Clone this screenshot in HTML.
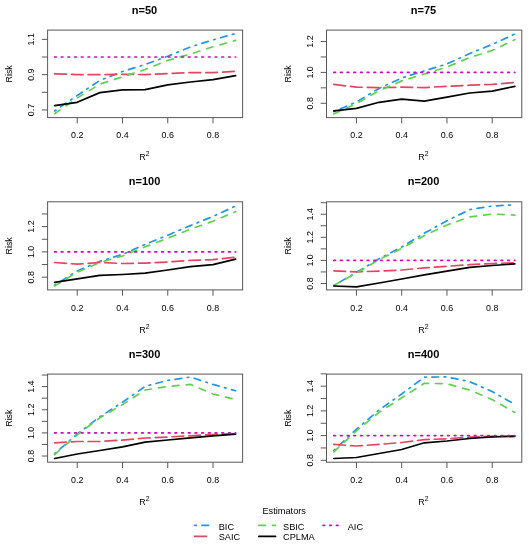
<!DOCTYPE html>
<html lang="en"><head><meta charset="utf-8"><title>Risk of estimators</title>
<style>html,body{margin:0;padding:0;background:#fff;}body{width:529px;height:550px;overflow:hidden;font-family:"Liberation Sans", sans-serif;}svg{display:block}svg text{font-family:"Liberation Sans", sans-serif;}</style>
</head><body>
<svg width="529" height="550" viewBox="0 0 529 550" fill="#000">
<rect width="529" height="550" fill="#fff"/>
<g>
<path d="M54.6 111L55.98 110.06M60.57 106.91L66.09 103.13M70.69 99.98L72.07 99.04M76.66 95.89L77.23 95.5L82.22 92.17M86.85 89.08L88.24 88.15M92.88 85.06L98.44 81.35M103.46 78.99L105.01 78.37M110.19 76.34L116.42 73.89M121.6 71.85L122.49 71.5L123.18 71.29M128.5 69.64L134.89 67.66M140.21 66.02L141.81 65.53M147.09 63.78L153.37 61.47M158.6 59.56L160.17 58.98M165.4 57.06L167.75 56.2L171.63 54.62M176.79 52.53L178.33 51.9M183.49 49.8L189.69 47.28M194.99 45.55L196.58 45.05M201.89 43.39L208.28 41.38M213.6 39.73L215.2 39.28M220.56 37.76L227 35.94M232.36 34.43L233.97 33.97" fill="none" stroke="#2297E6" stroke-width="1.7" stroke-linecap="round" stroke-linejoin="round"/>
<path d="M54.6 73.8L66.29 74.21M71.39 74.39L77.23 74.6L83.09 74.63M88.19 74.65L99.86 74.7L99.89 74.7M104.98 74.61L116.68 74.4M121.78 74.31L122.49 74.3L133.48 74.45M138.58 74.51L145.12 74.6L150.27 74.35M155.37 74.1L167.05 73.53M172.15 73.33L183.84 72.86M188.94 72.66L190.38 72.6L200.64 72.6M205.74 72.6L213.01 72.6L217.43 72.35M222.52 72.05L234.2 71.38" fill="none" stroke="#E04862" stroke-width="1.7" stroke-linecap="round" stroke-linejoin="round"/>
<path d="M54.6 113.7L60.1 109.89M66.01 105.78L71.51 101.97M77.43 97.88L83.13 94.37M89.27 90.61L94.97 87.1M101.25 83.65L107.62 81.6M114.47 79.39L120.83 77.33M127.69 75.12L134.05 73.07M140.91 70.86L145.12 69.5L147.22 68.66M153.9 65.97L160.11 63.47M166.79 60.79L167.75 60.4L173.19 58.86M180.12 56.9L186.55 55.08M193.45 53.02L199.83 50.99M206.69 48.81L213.01 46.8L213.06 46.78M219.99 44.83L226.43 43M233.36 41.05L235.64 40.4" fill="none" stroke="#61D04F" stroke-width="1.7" stroke-linecap="round" stroke-linejoin="round"/>
<polyline points="54.6,105.7 77.23,102.3 99.86,92.6 122.49,89.8 145.12,89.7 167.75,84.9 190.38,82 213.01,79.6 235.64,75.6" fill="none" stroke="#000000" stroke-width="1.7" stroke-linecap="round" stroke-linejoin="round"/>
<path d="M54.6 57L56.27 57M61.29 57L62.96 57M67.98 57L69.65 57M74.67 57L76.34 57M81.36 57L83.03 57M88.05 57L89.72 57M94.74 57L96.41 57M101.43 57L103.1 57M108.12 57L109.79 57M114.81 57L116.48 57M121.5 57L122.49 57L123.17 57M128.19 57L129.86 57M134.88 57L136.55 57M141.57 57L143.24 57M148.26 57L149.93 57M154.95 57L156.62 57M161.64 57L163.31 57M168.33 57L170 57M175.02 57L176.69 57M181.71 57L183.38 57M188.4 57L190.07 57M195.09 57L196.76 57M201.78 57L203.45 57M208.47 57L210.14 57M215.16 57L216.83 57M221.85 57L223.52 57M228.54 57L230.21 57M235.23 57L235.64 57" fill="none" stroke="#CD0BBC" stroke-width="1.7" stroke-linecap="round" stroke-linejoin="round"/>
<rect x="47.6" y="30.1" width="195" height="87.5" fill="none" stroke="#585858" stroke-width="1"/>
<path d="M77.23 117.6v5.8M122.49 117.6v5.8M167.75 117.6v5.8M213.01 117.6v5.8M47.6 109.95h-5.8M47.6 92.3h-5.8M47.6 74.65h-5.8M47.6 57h-5.8M47.6 39.35h-5.8" stroke="#585858" stroke-width="1" fill="none"/>
<text transform="translate(77.23 138.3) scale(0.9 1)" font-size="9.9" text-anchor="middle">0.2</text>
<text transform="translate(122.49 138.3) scale(0.9 1)" font-size="9.9" text-anchor="middle">0.4</text>
<text transform="translate(167.75 138.3) scale(0.9 1)" font-size="9.9" text-anchor="middle">0.6</text>
<text transform="translate(213.01 138.3) scale(0.9 1)" font-size="9.9" text-anchor="middle">0.8</text>
<text transform="translate(33.7 109.95) rotate(-90) scale(0.9 1)" font-size="9.9" text-anchor="middle">0.7</text>
<text transform="translate(33.7 74.65) rotate(-90) scale(0.9 1)" font-size="9.9" text-anchor="middle">0.9</text>
<text transform="translate(33.7 39.35) rotate(-90) scale(0.9 1)" font-size="9.9" text-anchor="middle">1.1</text>
<text transform="translate(11.8 73.85) rotate(-90) scale(0.9 1)" font-size="9.9" text-anchor="middle">Risk</text>
<text transform="translate(144.4 160.2) scale(0.9 1)" font-size="9.9" text-anchor="middle">R<tspan font-size="7.6" dy="-3.9">2</tspan></text>
<text x="144.5" y="13.7" font-size="11" font-weight="bold" text-anchor="middle" fill="#000">n=50</text>
</g>
<g>
<path d="M333.8 111.6L335.34 110.95M340.47 108.77L346.62 106.16M351.75 103.98L353.29 103.33M358.28 100.89L364.01 97.44M368.79 94.57L370.22 93.71M374.99 90.84L379.06 88.4L380.83 87.59M385.89 85.26L387.41 84.56M392.47 82.24L398.55 79.44M403.7 77.36L405.29 76.85M410.6 75.17L416.98 73.14M422.28 71.45L423.87 70.94M429.21 69.33L435.61 67.41M440.95 65.8L442.55 65.32M447.83 63.59L453.91 60.8M458.97 58.47L460.49 57.78M465.55 55.45L469.58 53.6L471.67 52.75M476.83 50.65L478.38 50.02M483.54 47.93L489.74 45.41M494.84 43.19L496.36 42.49M501.42 40.17L507.5 37.37M512.56 35.05L514.08 34.35" fill="none" stroke="#2297E6" stroke-width="1.7" stroke-linecap="round" stroke-linejoin="round"/>
<path d="M333.8 84.4L345.42 85.79M350.48 86.39L356.43 87.1L362.14 87.23M367.24 87.34L378.93 87.6M384.03 87.51L395.73 87.31M400.83 87.22L401.69 87.2L412.53 87.39M417.63 87.48L424.32 87.6L429.32 87.31M434.41 87.02L446.09 86.35M451.18 86.09L462.87 85.53M467.96 85.28L469.58 85.2L479.66 84.84M484.75 84.66L492.21 84.4L496.43 84.05M501.52 83.62L513.17 82.64" fill="none" stroke="#E04862" stroke-width="1.7" stroke-linecap="round" stroke-linejoin="round"/>
<path d="M333.8 114L339.88 111.21M346.42 108.2L352.5 105.41M358.93 102.18L364.76 98.89M371.02 95.35L376.85 92.05M383.33 88.93L389.45 86.25M396.05 83.37L401.69 80.9L402.2 80.74M409.09 78.64L415.49 76.69M422.37 74.59L424.32 74L428.77 72.62M435.65 70.5L442.04 68.52M448.85 66.21L455.03 63.64M461.68 60.88L467.86 58.32M474.67 56L481.05 54M487.92 51.85L492.21 50.5L494.19 49.55M500.68 46.42L506.7 43.52M513.19 40.4L514.84 39.6" fill="none" stroke="#61D04F" stroke-width="1.7" stroke-linecap="round" stroke-linejoin="round"/>
<polyline points="333.8,110.8 356.43,108.4 379.06,102.3 401.69,99.1 424.32,101.2 446.95,97.2 469.58,93 492.21,91.1 514.84,86.3" fill="none" stroke="#000000" stroke-width="1.7" stroke-linecap="round" stroke-linejoin="round"/>
<path d="M333.8 72.4L335.47 72.4M340.49 72.4L342.16 72.4M347.18 72.4L348.85 72.4M353.87 72.4L355.54 72.4M360.56 72.4L362.23 72.4M367.25 72.4L368.92 72.4M373.94 72.4L375.61 72.4M380.63 72.4L382.3 72.4M387.32 72.4L388.99 72.4M394.01 72.4L395.68 72.4M400.7 72.4L401.69 72.4L402.37 72.4M407.39 72.4L409.06 72.4M414.08 72.4L415.75 72.4M420.77 72.4L422.44 72.4M427.46 72.4L429.13 72.4M434.15 72.4L435.82 72.4M440.84 72.4L442.51 72.4M447.53 72.4L449.2 72.4M454.22 72.4L455.89 72.4M460.91 72.4L462.58 72.4M467.6 72.4L469.27 72.4M474.29 72.4L475.96 72.4M480.98 72.4L482.65 72.4M487.67 72.4L489.34 72.4M494.36 72.4L496.03 72.4M501.05 72.4L502.72 72.4M507.74 72.4L509.41 72.4M514.43 72.4L514.84 72.4" fill="none" stroke="#CD0BBC" stroke-width="1.7" stroke-linecap="round" stroke-linejoin="round"/>
<rect x="326.5" y="30.1" width="195.3" height="87.5" fill="none" stroke="#585858" stroke-width="1"/>
<path d="M356.43 117.6v5.8M401.69 117.6v5.8M446.95 117.6v5.8M492.21 117.6v5.8M326.5 103.3h-5.8M326.5 87.85h-5.8M326.5 72.4h-5.8M326.5 56.95h-5.8M326.5 41.5h-5.8" stroke="#585858" stroke-width="1" fill="none"/>
<text transform="translate(356.43 138.3) scale(0.9 1)" font-size="9.9" text-anchor="middle">0.2</text>
<text transform="translate(401.69 138.3) scale(0.9 1)" font-size="9.9" text-anchor="middle">0.4</text>
<text transform="translate(446.95 138.3) scale(0.9 1)" font-size="9.9" text-anchor="middle">0.6</text>
<text transform="translate(492.21 138.3) scale(0.9 1)" font-size="9.9" text-anchor="middle">0.8</text>
<text transform="translate(312.6 103.3) rotate(-90) scale(0.9 1)" font-size="9.9" text-anchor="middle">0.8</text>
<text transform="translate(312.6 72.4) rotate(-90) scale(0.9 1)" font-size="9.9" text-anchor="middle">1.0</text>
<text transform="translate(312.6 41.5) rotate(-90) scale(0.9 1)" font-size="9.9" text-anchor="middle">1.2</text>
<text transform="translate(290.7 73.85) rotate(-90) scale(0.9 1)" font-size="9.9" text-anchor="middle">Risk</text>
<text transform="translate(423.45 160.2) scale(0.9 1)" font-size="9.9" text-anchor="middle">R<tspan font-size="7.6" dy="-3.9">2</tspan></text>
<text x="423.55" y="13.7" font-size="11" font-weight="bold" text-anchor="middle" fill="#000">n=75</text>
</g>
<g>
<path d="M54.6 285.2L56.01 284.31M60.73 281.35L66.4 277.8M71.12 274.84L72.53 273.95M77.25 270.99L83.4 268.35M88.52 266.16L90.06 265.5M95.17 263.31L99.86 261.3L101.38 260.84M106.71 259.21L108.31 258.72M113.64 257.1L120.04 255.15M125.24 253.19L126.77 252.51M131.86 250.26L137.98 247.56M143.07 245.3L144.6 244.63M149.75 242.52L155.95 240M161.11 237.9L162.66 237.27M167.82 235.17L173.98 232.56M179.1 230.38L180.64 229.73M185.77 227.56L190.38 225.6L191.94 224.97M197.1 222.87L198.65 222.24M203.81 220.14L210 217.62M215.12 215.43L216.64 214.73M221.7 212.41L227.78 209.61M232.84 207.29L234.36 206.59" fill="none" stroke="#2297E6" stroke-width="1.7" stroke-linecap="round" stroke-linejoin="round"/>
<path d="M54.6 262.5L66.27 263.38M71.35 263.76L77.23 264.2L83.02 263.77M88.11 263.38L99.77 262.51M104.87 262.72L116.56 263.24M121.65 263.46L122.49 263.5L133.35 263.31M138.45 263.22L145.12 263.1L150.14 262.86M155.23 262.61L166.92 262.04M172.01 261.7L183.68 260.87M188.77 260.51L190.38 260.4L200.46 260.04M205.55 259.86L213.01 259.6L217.23 259.15M222.3 258.62L233.93 257.38" fill="none" stroke="#E04862" stroke-width="1.7" stroke-linecap="round" stroke-linejoin="round"/>
<path d="M54.6 286L60.31 282.52M66.46 278.77L72.17 275.29M78.4 271.7L84.55 269.06M91.17 266.23L97.32 263.59M104.12 261.28L110.55 259.43M117.47 257.44L122.49 256L123.85 255.45M130.52 252.74L136.72 250.22M143.39 247.5L145.12 246.8L149.62 245.09M156.36 242.53L162.61 240.15M169.33 237.57L175.55 235.1M182.24 232.44L188.45 229.97M195.21 227.49L201.52 225.26M208.31 222.86L213.01 221.2L214.58 220.53M221.21 217.72L227.37 215.11M233.99 212.3L235.64 211.6" fill="none" stroke="#61D04F" stroke-width="1.7" stroke-linecap="round" stroke-linejoin="round"/>
<polyline points="54.6,282.3 77.23,278.8 99.86,275.3 122.49,274.5 145.12,273.2 167.75,270 190.38,266.7 213.01,264.7 235.64,259.1" fill="none" stroke="#000000" stroke-width="1.7" stroke-linecap="round" stroke-linejoin="round"/>
<path d="M54.6 251.9L56.27 251.9M61.29 251.9L62.96 251.9M67.98 251.9L69.65 251.9M74.67 251.9L76.34 251.9M81.36 251.9L83.03 251.9M88.05 251.9L89.72 251.9M94.74 251.9L96.41 251.9M101.43 251.9L103.1 251.9M108.12 251.9L109.79 251.9M114.81 251.9L116.48 251.9M121.5 251.9L122.49 251.9L123.17 251.9M128.19 251.9L129.86 251.9M134.88 251.9L136.55 251.9M141.57 251.9L143.24 251.9M148.26 251.9L149.93 251.9M154.95 251.9L156.62 251.9M161.64 251.9L163.31 251.9M168.33 251.9L170 251.9M175.02 251.9L176.69 251.9M181.71 251.9L183.38 251.9M188.4 251.9L190.07 251.9M195.09 251.9L196.76 251.9M201.78 251.9L203.45 251.9M208.47 251.9L210.14 251.9M215.16 251.9L216.83 251.9M221.85 251.9L223.52 251.9M228.54 251.9L230.21 251.9M235.23 251.9L235.64 251.9" fill="none" stroke="#CD0BBC" stroke-width="1.7" stroke-linecap="round" stroke-linejoin="round"/>
<rect x="47.6" y="201.8" width="195" height="88.1" fill="none" stroke="#585858" stroke-width="1"/>
<path d="M77.23 289.9v5.8M122.49 289.9v5.8M167.75 289.9v5.8M213.01 289.9v5.8M47.6 277.2h-5.8M47.6 264.55h-5.8M47.6 251.9h-5.8M47.6 239.25h-5.8M47.6 226.6h-5.8M47.6 213.95h-5.8" stroke="#585858" stroke-width="1" fill="none"/>
<text transform="translate(77.23 310.6) scale(0.9 1)" font-size="9.9" text-anchor="middle">0.2</text>
<text transform="translate(122.49 310.6) scale(0.9 1)" font-size="9.9" text-anchor="middle">0.4</text>
<text transform="translate(167.75 310.6) scale(0.9 1)" font-size="9.9" text-anchor="middle">0.6</text>
<text transform="translate(213.01 310.6) scale(0.9 1)" font-size="9.9" text-anchor="middle">0.8</text>
<text transform="translate(33.7 277.2) rotate(-90) scale(0.9 1)" font-size="9.9" text-anchor="middle">0.8</text>
<text transform="translate(33.7 251.9) rotate(-90) scale(0.9 1)" font-size="9.9" text-anchor="middle">1.0</text>
<text transform="translate(33.7 226.6) rotate(-90) scale(0.9 1)" font-size="9.9" text-anchor="middle">1.2</text>
<text transform="translate(11.8 245.85) rotate(-90) scale(0.9 1)" font-size="9.9" text-anchor="middle">Risk</text>
<text transform="translate(144.4 332.5) scale(0.9 1)" font-size="9.9" text-anchor="middle">R<tspan font-size="7.6" dy="-3.9">2</tspan></text>
<text x="144.5" y="185.4" font-size="11" font-weight="bold" text-anchor="middle" fill="#000">n=100</text>
</g>
<g>
<path d="M333.8 285.5L335.25 284.66M340.07 281.87L345.86 278.52M350.68 275.73L352.12 274.89M356.94 272.1L362.67 268.65M367.45 265.78L368.88 264.92M373.65 262.05L379.06 258.8L379.4 258.62M384.34 256.05L385.82 255.28M390.76 252.7L396.69 249.61M401.63 247.03L401.69 247L403.05 246.17M407.81 243.27L413.52 239.78M418.28 236.89L419.7 236.02M424.46 233.12L430.33 229.91M435.21 227.23L436.68 226.43M441.56 223.75L446.95 220.8L447.44 220.56M452.43 218.09L453.93 217.35M458.92 214.88L464.92 211.91M469.94 209.54L471.59 209.28M477.09 208.4L483.7 207.35M489.2 206.48L490.85 206.22M496.4 205.8L503.08 205.47M508.64 205.2L510.31 205.12" fill="none" stroke="#2297E6" stroke-width="1.7" stroke-linecap="round" stroke-linejoin="round"/>
<path d="M333.8 270.8L345.49 271.37M350.58 271.62L356.43 271.9L362.27 271.69M367.37 271.51L379.06 271.1M384.15 270.85L395.84 270.28M400.93 270.04L401.69 270L412.59 268.99M417.66 268.52L424.32 267.9L429.32 267.55M434.41 267.19L446.08 266.36M451.17 266L462.84 265.18M467.93 264.82L469.58 264.7L479.61 264.21M484.7 263.96L492.21 263.6L496.39 263.45M501.49 263.27L513.18 262.86" fill="none" stroke="#E04862" stroke-width="1.7" stroke-linecap="round" stroke-linejoin="round"/>
<path d="M333.8 285.5L339.68 282.31M346 278.87L351.88 275.67M358.16 272.16L363.9 268.71M370.07 265L375.8 261.56M382.11 258.09L388.1 255.12M394.56 251.93L400.55 248.96M406.85 245.48L412.68 242.19M418.94 238.64L424.32 235.6L424.78 235.38M431.3 232.33L437.36 229.49M443.88 226.44L446.95 225L450.06 223.9M456.85 221.5L463.16 219.27M469.97 216.95L476.6 216.07M483.74 215.12L490.37 214.24M497.55 214.26L504.23 214.58M511.42 214.93L514.84 215.1" fill="none" stroke="#61D04F" stroke-width="1.7" stroke-linecap="round" stroke-linejoin="round"/>
<polyline points="333.8,286 356.43,286.9 379.06,283 401.69,279 424.32,274.8 446.95,271.1 469.58,267.4 492.21,265.5 514.84,263.9" fill="none" stroke="#000000" stroke-width="1.7" stroke-linecap="round" stroke-linejoin="round"/>
<path d="M333.8 260.4L335.47 260.4M340.49 260.4L342.16 260.4M347.18 260.4L348.85 260.4M353.87 260.4L355.54 260.4M360.56 260.4L362.23 260.4M367.25 260.4L368.92 260.4M373.94 260.4L375.61 260.4M380.63 260.4L382.3 260.4M387.32 260.4L388.99 260.4M394.01 260.4L395.68 260.4M400.7 260.4L401.69 260.4L402.37 260.4M407.39 260.4L409.06 260.4M414.08 260.4L415.75 260.4M420.77 260.4L422.44 260.4M427.46 260.4L429.13 260.4M434.15 260.4L435.82 260.4M440.84 260.4L442.51 260.4M447.53 260.4L449.2 260.4M454.22 260.4L455.89 260.4M460.91 260.4L462.58 260.4M467.6 260.4L469.27 260.4M474.29 260.4L475.96 260.4M480.98 260.4L482.65 260.4M487.67 260.4L489.34 260.4M494.36 260.4L496.03 260.4M501.05 260.4L502.72 260.4M507.74 260.4L509.41 260.4M514.43 260.4L514.84 260.4" fill="none" stroke="#CD0BBC" stroke-width="1.7" stroke-linecap="round" stroke-linejoin="round"/>
<rect x="326.5" y="201.8" width="195.3" height="88.1" fill="none" stroke="#585858" stroke-width="1"/>
<path d="M356.43 289.9v5.8M401.69 289.9v5.8M446.95 289.9v5.8M492.21 289.9v5.8M326.5 283.48h-5.8M326.5 271.94h-5.8M326.5 260.4h-5.8M326.5 248.86h-5.8M326.5 237.32h-5.8M326.5 225.78h-5.8M326.5 214.24h-5.8M326.5 202.7h-5.8" stroke="#585858" stroke-width="1" fill="none"/>
<text transform="translate(356.43 310.6) scale(0.9 1)" font-size="9.9" text-anchor="middle">0.2</text>
<text transform="translate(401.69 310.6) scale(0.9 1)" font-size="9.9" text-anchor="middle">0.4</text>
<text transform="translate(446.95 310.6) scale(0.9 1)" font-size="9.9" text-anchor="middle">0.6</text>
<text transform="translate(492.21 310.6) scale(0.9 1)" font-size="9.9" text-anchor="middle">0.8</text>
<text transform="translate(312.6 283.48) rotate(-90) scale(0.9 1)" font-size="9.9" text-anchor="middle">0.8</text>
<text transform="translate(312.6 260.4) rotate(-90) scale(0.9 1)" font-size="9.9" text-anchor="middle">1.0</text>
<text transform="translate(312.6 237.32) rotate(-90) scale(0.9 1)" font-size="9.9" text-anchor="middle">1.2</text>
<text transform="translate(312.6 214.24) rotate(-90) scale(0.9 1)" font-size="9.9" text-anchor="middle">1.4</text>
<text transform="translate(290.7 245.85) rotate(-90) scale(0.9 1)" font-size="9.9" text-anchor="middle">Risk</text>
<text transform="translate(423.45 332.5) scale(0.9 1)" font-size="9.9" text-anchor="middle">R<tspan font-size="7.6" dy="-3.9">2</tspan></text>
<text x="423.55" y="185.4" font-size="11" font-weight="bold" text-anchor="middle" fill="#000">n=200</text>
</g>
<g>
<path d="M54.6 453.7L55.86 452.6M60.06 448.95L65.11 444.55M69.31 440.9L70.57 439.8M74.77 436.14L77.23 434L79.96 431.93M84.39 428.56L85.72 427.55M90.16 424.18L95.48 420.13M99.92 416.76L101.33 415.86M106.02 412.86L111.65 409.25M116.34 406.24L117.75 405.34M122.44 402.34L122.49 402.3L127.91 398.49M132.47 395.29L133.83 394.33M138.39 391.13L143.87 387.28M149.02 385.37L150.64 384.94M156.02 383.51L162.49 381.8M167.87 380.38L169.53 380.13M175.03 379.31L181.65 378.31M187.16 377.48L188.81 377.24M194.16 378.24L200.52 380.32M205.82 382.05L207.4 382.57M212.7 384.3L213.01 384.4L219.13 386.13M224.49 387.65L226.1 388.1M231.46 389.62L235.64 390.8" fill="none" stroke="#2297E6" stroke-width="1.7" stroke-linecap="round" stroke-linejoin="round"/>
<path d="M54.6 442.8L66.28 442.13M71.37 441.84L77.23 441.5L83.06 441.5M88.16 441.5L99.86 441.5L99.86 441.5M104.95 441.18L116.63 440.46M121.72 440.15L122.49 440.1L133.37 439.09M138.45 438.62L145.12 438L150.12 437.78M155.21 437.55L166.9 437.04M171.99 436.77L183.68 436.16M188.77 435.89L190.38 435.8L200.45 435.22M205.54 434.93L213.01 434.5L217.23 434.35M222.33 434.17L234.02 433.76" fill="none" stroke="#E04862" stroke-width="1.7" stroke-linecap="round" stroke-linejoin="round"/>
<path d="M54.6 454.5L59.65 450.11M65.08 445.38L70.12 440.99M75.55 436.26L77.23 434.8L80.8 432.12M86.56 427.79L91.91 423.77M97.66 419.45L99.86 417.8L103.27 415.81M109.48 412.19L115.26 408.82M121.48 405.19L122.49 404.6L127.13 401.61M133.18 397.7L138.8 394.08M144.85 390.17L145.12 390L151.42 389.03M158.53 387.93L165.15 386.9M172.29 386.08L178.96 385.46M186.13 384.79L190.38 384.4L192.6 385.34M199.23 388.16L205.39 390.77M212.02 393.58L213.01 394L218.46 395.35M225.45 397.08L231.94 398.69" fill="none" stroke="#61D04F" stroke-width="1.7" stroke-linecap="round" stroke-linejoin="round"/>
<polyline points="54.6,458.5 77.23,454 99.86,450.5 122.49,446.8 145.12,442.2 167.75,440 190.38,437.9 213.01,435.8 235.64,434.1" fill="none" stroke="#000000" stroke-width="1.7" stroke-linecap="round" stroke-linejoin="round"/>
<path d="M54.6 432.9L56.27 432.9M61.29 432.9L62.96 432.9M67.98 432.9L69.65 432.9M74.67 432.9L76.34 432.9M81.36 432.9L83.03 432.9M88.05 432.9L89.72 432.9M94.74 432.9L96.41 432.9M101.43 432.9L103.1 432.9M108.12 432.9L109.79 432.9M114.81 432.9L116.48 432.9M121.5 432.9L122.49 432.9L123.17 432.9M128.19 432.9L129.86 432.9M134.88 432.9L136.55 432.9M141.57 432.9L143.24 432.9M148.26 432.9L149.93 432.9M154.95 432.9L156.62 432.9M161.64 432.9L163.31 432.9M168.33 432.9L170 432.9M175.02 432.9L176.69 432.9M181.71 432.9L183.38 432.9M188.4 432.9L190.07 432.9M195.09 432.9L196.76 432.9M201.78 432.9L203.45 432.9M208.47 432.9L210.14 432.9M215.16 432.9L216.83 432.9M221.85 432.9L223.52 432.9M228.54 432.9L230.21 432.9M235.23 432.9L235.64 432.9" fill="none" stroke="#CD0BBC" stroke-width="1.7" stroke-linecap="round" stroke-linejoin="round"/>
<rect x="47.6" y="374.1" width="195" height="88.1" fill="none" stroke="#585858" stroke-width="1"/>
<path d="M77.23 462.2v5.8M122.49 462.2v5.8M167.75 462.2v5.8M213.01 462.2v5.8M47.6 456.04h-5.8M47.6 444.47h-5.8M47.6 432.9h-5.8M47.6 421.33h-5.8M47.6 409.76h-5.8M47.6 398.19h-5.8M47.6 386.62h-5.8M47.6 375.05h-5.8" stroke="#585858" stroke-width="1" fill="none"/>
<text transform="translate(77.23 482.9) scale(0.9 1)" font-size="9.9" text-anchor="middle">0.2</text>
<text transform="translate(122.49 482.9) scale(0.9 1)" font-size="9.9" text-anchor="middle">0.4</text>
<text transform="translate(167.75 482.9) scale(0.9 1)" font-size="9.9" text-anchor="middle">0.6</text>
<text transform="translate(213.01 482.9) scale(0.9 1)" font-size="9.9" text-anchor="middle">0.8</text>
<text transform="translate(33.7 456.04) rotate(-90) scale(0.9 1)" font-size="9.9" text-anchor="middle">0.8</text>
<text transform="translate(33.7 432.9) rotate(-90) scale(0.9 1)" font-size="9.9" text-anchor="middle">1.0</text>
<text transform="translate(33.7 409.76) rotate(-90) scale(0.9 1)" font-size="9.9" text-anchor="middle">1.2</text>
<text transform="translate(33.7 386.62) rotate(-90) scale(0.9 1)" font-size="9.9" text-anchor="middle">1.4</text>
<text transform="translate(11.8 418.15) rotate(-90) scale(0.9 1)" font-size="9.9" text-anchor="middle">Risk</text>
<text transform="translate(144.4 504.8) scale(0.9 1)" font-size="9.9" text-anchor="middle">R<tspan font-size="7.6" dy="-3.9">2</tspan></text>
<text x="144.5" y="357.7" font-size="11" font-weight="bold" text-anchor="middle" fill="#000">n=300</text>
</g>
<g>
<path d="M333.8 450.5L335.02 449.36M339.07 445.54L343.94 440.95M348 437.13L349.22 435.99M353.27 432.17L356.43 429.2L358.22 427.68M362.47 424.07L363.74 422.99M367.99 419.39L373.09 415.06M377.34 411.46L378.61 410.38M383.13 407.12L388.59 403.26M393.14 400.04L394.5 399.08M399.05 395.86L401.69 394L404.47 391.94M408.94 388.62L410.28 387.62M414.75 384.3L420.13 380.31M424.67 377.2L426.34 377.17M431.91 377.1L438.59 377.01M444.16 376.94L445.83 376.91M451.31 377.81L457.86 379.17M463.31 380.3L464.95 380.64M470.35 381.94L476.47 384.64M481.56 386.9L483.09 387.57M488.19 389.82L492.21 391.6L494.2 392.73M499.05 395.47L500.5 396.29M505.35 399.03L511.18 402.33" fill="none" stroke="#2297E6" stroke-width="1.7" stroke-linecap="round" stroke-linejoin="round"/>
<path d="M333.8 444.4L345.47 445.23M350.56 445.58L356.43 446L362.23 445.59M367.32 445.23L378.99 444.41M384.07 443.98L395.73 443M400.81 442.57L401.69 442.5L412.42 441.13M417.48 440.48L424.32 439.6L429.12 439.43M434.22 439.25L445.91 438.84M451 438.51L462.67 437.69M467.76 437.33L469.58 437.2L479.45 436.85M484.54 436.67L492.21 436.4L496.24 436.31M501.34 436.2L513.03 435.94" fill="none" stroke="#E04862" stroke-width="1.7" stroke-linecap="round" stroke-linejoin="round"/>
<path d="M333.8 451.9L338.69 447.34M343.96 442.43L348.85 437.87M354.12 432.96L356.43 430.8L359.17 428.57M364.75 424.03L369.95 419.81M375.53 415.27L379.06 412.4L380.86 411.24M386.91 407.33L392.53 403.71M398.58 399.8L401.69 397.8L404.21 396.19M410.27 392.3L415.9 388.69M421.97 384.81L424.32 383.3L428.21 383.37M435.41 383.5L442.1 383.61M449.22 384.33L455.66 386.12M462.6 388.06L469.04 389.85M475.69 392.59L481.85 395.21M488.48 398.02L492.21 399.6L494.51 400.9M500.77 404.44L506.6 407.74M512.86 411.28L514.84 412.4" fill="none" stroke="#61D04F" stroke-width="1.7" stroke-linecap="round" stroke-linejoin="round"/>
<polyline points="333.8,458.5 356.43,457.5 379.06,453.5 401.69,449.5 424.32,442.8 446.95,441 469.58,438.5 492.21,436.9 514.84,436.4" fill="none" stroke="#000000" stroke-width="1.7" stroke-linecap="round" stroke-linejoin="round"/>
<path d="M333.8 435.6L335.47 435.6M340.49 435.6L342.16 435.6M347.18 435.6L348.85 435.6M353.87 435.6L355.54 435.6M360.56 435.6L362.23 435.6M367.25 435.6L368.92 435.6M373.94 435.6L375.61 435.6M380.63 435.6L382.3 435.6M387.32 435.6L388.99 435.6M394.01 435.6L395.68 435.6M400.7 435.6L401.69 435.6L402.37 435.6M407.39 435.6L409.06 435.6M414.08 435.6L415.75 435.6M420.77 435.6L422.44 435.6M427.46 435.6L429.13 435.6M434.15 435.6L435.82 435.6M440.84 435.6L442.51 435.6M447.53 435.6L449.2 435.6M454.22 435.6L455.89 435.6M460.91 435.6L462.58 435.6M467.6 435.6L469.27 435.6M474.29 435.6L475.96 435.6M480.98 435.6L482.65 435.6M487.67 435.6L489.34 435.6M494.36 435.6L496.03 435.6M501.05 435.6L502.72 435.6M507.74 435.6L509.41 435.6M514.43 435.6L514.84 435.6" fill="none" stroke="#CD0BBC" stroke-width="1.7" stroke-linecap="round" stroke-linejoin="round"/>
<rect x="326.5" y="374.1" width="195.3" height="88.1" fill="none" stroke="#585858" stroke-width="1"/>
<path d="M356.43 462.2v5.8M401.69 462.2v5.8M446.95 462.2v5.8M492.21 462.2v5.8M326.5 460.3h-5.8M326.5 447.95h-5.8M326.5 435.6h-5.8M326.5 423.25h-5.8M326.5 410.9h-5.8M326.5 398.55h-5.8M326.5 386.2h-5.8M326.5 373.85h-5.8" stroke="#585858" stroke-width="1" fill="none"/>
<text transform="translate(356.43 482.9) scale(0.9 1)" font-size="9.9" text-anchor="middle">0.2</text>
<text transform="translate(401.69 482.9) scale(0.9 1)" font-size="9.9" text-anchor="middle">0.4</text>
<text transform="translate(446.95 482.9) scale(0.9 1)" font-size="9.9" text-anchor="middle">0.6</text>
<text transform="translate(492.21 482.9) scale(0.9 1)" font-size="9.9" text-anchor="middle">0.8</text>
<text transform="translate(312.6 460.3) rotate(-90) scale(0.9 1)" font-size="9.9" text-anchor="middle">0.8</text>
<text transform="translate(312.6 435.6) rotate(-90) scale(0.9 1)" font-size="9.9" text-anchor="middle">1.0</text>
<text transform="translate(312.6 410.9) rotate(-90) scale(0.9 1)" font-size="9.9" text-anchor="middle">1.2</text>
<text transform="translate(312.6 386.2) rotate(-90) scale(0.9 1)" font-size="9.9" text-anchor="middle">1.4</text>
<text transform="translate(290.7 418.15) rotate(-90) scale(0.9 1)" font-size="9.9" text-anchor="middle">Risk</text>
<text transform="translate(423.45 504.8) scale(0.9 1)" font-size="9.9" text-anchor="middle">R<tspan font-size="7.6" dy="-3.9">2</tspan></text>
<text x="423.55" y="357.7" font-size="11" font-weight="bold" text-anchor="middle" fill="#000">n=400</text>
</g>
<text transform="translate(284.2 514.1) scale(0.94 1)" font-size="9.8" text-anchor="middle">Estimators</text>
<path d="M194.6 525.3L196.27 525.3M201.84 525.3L208.53 525.3" fill="none" stroke="#2297E6" stroke-width="1.7" stroke-linecap="round"/>
<text transform="translate(218.7 529.5) scale(0.94 1)" font-size="9.8">BIC</text>
<path d="M194.6 536.4L206.3 536.4" fill="none" stroke="#E04862" stroke-width="1.7" stroke-linecap="round"/>
<text transform="translate(218.7 539.8) scale(0.94 1)" font-size="9.8">SAIC</text>
<path d="M258.8 525.3L265.49 525.3M272.69 525.3L275.5 525.3" fill="none" stroke="#61D04F" stroke-width="1.7" stroke-linecap="round"/>
<text transform="translate(283 529.5) scale(0.94 1)" font-size="9.8">SBIC</text>
<line x1="258.8" y1="536.4" x2="275.5" y2="536.4" stroke="#000000" stroke-width="1.7" stroke-linecap="round"/>
<text transform="translate(283 539.8) scale(0.94 1)" font-size="9.8">CPLMA</text>
<path d="M323 525.3L324.67 525.3M329.69 525.3L331.36 525.3M336.38 525.3L338.05 525.3" fill="none" stroke="#CD0BBC" stroke-width="1.7" stroke-linecap="round"/>
<text transform="translate(347.7 529.5) scale(0.94 1)" font-size="9.8">AIC</text>
</svg>
</body></html>
